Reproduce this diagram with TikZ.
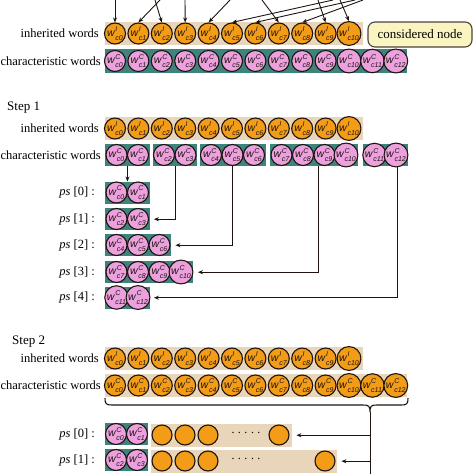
\documentclass[tikz,border=0pt]{standalone}
\usepackage{fontspec}
\setmainfont{Liberation Serif}
\newfontfamily\labfont{Liberation Sans}
\usetikzlibrary{arrows.meta,calc}
\definecolor{orng}{RGB}{243,156,24}
\definecolor{tanbg}{RGB}{233,214,186}
\definecolor{tealbg}{RGB}{62,132,124}
\definecolor{pnk}{RGB}{236,160,222}
\definecolor{consfill}{RGB}{250,244,192}
\definecolor{ink}{RGB}{30,20,15}
\newcommand\wlab[2]{{\labfont\itshape\fontsize{10.5}{10.5}\selectfont w\kern0.8pt\rlap{\raisebox{4.6pt}{\fontsize{7}{7}\selectfont #1}}\raisebox{-4pt}{\fontsize{7}{7}\selectfont c#2}}}
\newcommand\wI[1]{\wlab{I}{#1}}
\newcommand\wC[1]{\wlab{C}{#1}}
\tikzset{
  oc/.style={circle, draw=ink, line width=1.1pt, fill=orng, minimum size=21pt, inner sep=0pt, text=ink},
  pc/.style={oc, fill=pnk},
  plain/.style={circle, draw=ink, line width=1.1pt, fill=orng, minimum size=20pt, inner sep=0pt},
  lbl/.style={anchor=east, inner sep=0pt, font=\fontsize{12.5}{12.5}\selectfont},
  steplbl/.style={anchor=west, inner sep=0pt, font=\fontsize{13}{13}\selectfont},
  tanband/.style={fill=tanbg, inner sep=0pt, minimum height=23pt, anchor=north west},
  tealband/.style={fill=tealbg, inner sep=0pt, minimum height=22pt, anchor=north west},
  arr/.style={-{Stealth[length=5pt,width=4pt]}, line width=0.9pt, draw=ink},
  plainline/.style={line width=0.9pt, draw=ink},
  cons/.style={draw=ink!80, line width=1.1pt, fill=consfill, rounded corners=7pt, minimum width=104pt, minimum height=25pt, inner sep=0pt, font=\fontsize{13}{13}\selectfont}
}
\begin{document}
\begin{tikzpicture}[x=1pt,y=-1pt]
\useasboundingbox (0,0) rectangle (474,474);

% ---------------- top section
\node[tanband, minimum width=258pt] (bandI0) at (105,22) {};
\node[tealband, minimum width=302pt, minimum height=24pt] (bandC0) at (105,49) {};
\foreach \i in {0,...,10} \node[oc] (ti\i) at ({115+23.4*\i},33.5) {\wI{\i}};
\foreach \i in {0,...,12} \node[pc] (tc\i) at ({115+23.4*\i},61) {\wC{\i}};
\node[lbl] (lI0) at (99,33.5) {inherited words};
\node[lbl] (lC0) at (101,61) {characteristic words};
\node[cons] (cn) at (420,34.5) {considered node};

\coordinate (a0) at (115,0);
\coordinate (a1) at (160,0);
\coordinate (a2) at (155,0);
\coordinate (a3) at (185,0);
\coordinate (a4) at (230,0);
\coordinate (a5) at (333,0);
\coordinate (a6) at (355,0);
\coordinate (a7) at (262,0);
\coordinate (a8) at (363,0);
\coordinate (a9) at (318,0);
\coordinate (a10) at (340,0);
\foreach \i in {0,...,10} \draw[arr] (a\i) -- (ti\i.north);

% ---------------- step 1
\node[steplbl] (s1) at (7,108) {Step 1};
\node[tanband, minimum width=258pt] (bandI1) at (105,117) {};
\foreach \i in {0,...,10} \node[oc] (si\i) at ({115+23.4*\i},128.5) {\wI{\i}};
\node[lbl] (lI1) at (99,128.5) {inherited words};
\node[lbl] (lC1) at (101,155) {characteristic words};

\foreach \n/\x/\first/\last in {g1/105/0/1, g2/152.5/2/3, g3/199.5/4/6, g4/270/7/10, g5/363/11/12} {
  \pgfmathsetmacro\w{(\last-\first)*21.5+23}
  \node[tealband, minimum width=\w] (\n) at (\x,144) {};
  \foreach \k in {\first,...,\last}
    \node[pc] (s1c\k) at ({\x+11.5+21.5*(\k-\first)},155) {\wC{\k}};
}

\foreach \n/\y/\first/\last in {ps0/192.5/0/1, ps1/219/2/3, ps2/245/4/6, ps3/272/7/10, ps4/297.5/11/12} {
  \pgfmathsetmacro\w{(\last-\first)*21.5+23}
  \node[tealband, minimum width=\w] (\n) at (105,\y-11) {};
  \foreach \k in {\first,...,\last}
    \node[pc] (\n c\k) at ({116.5+21.5*(\k-\first)},\y) {\wC{\k}};
}
\node[lbl] (lp0) at (95,192.5) {\textit{ps} [0] :};
\node[lbl] (lp1) at (95,219) {\textit{ps} [1] :};
\node[lbl] (lp2) at (95,245) {\textit{ps} [2] :};
\node[lbl] (lp3) at (95,272) {\textit{ps} [3] :};
\node[lbl] (lp4) at (95,297.5) {\textit{ps} [4] :};

\draw[arr] (g1.south) -- (ps0.north);
\draw[arr] (g2.south) |- ([xshift=4pt]ps1.east);
\draw[arr] (g3.south) |- ([xshift=4pt]ps2.east);
\draw[arr] ([xshift=4pt]g4.south) |- ([xshift=5pt]ps3.east);
\draw[arr] ([xshift=11.5pt]g5.south) |- ([xshift=4pt]ps4.east);

% ---------------- step 2
\node[steplbl] (s2) at (12,342) {Step 2};
\node[tanband, minimum width=258pt] (bandI2) at (105,347) {};
\node[tanband, minimum width=302pt] (bandC2) at (105,374) {};
\foreach \i in {0,...,10} \node[oc] (ui\i) at ({115+23.4*\i},358.5) {\wI{\i}};
\foreach \i in {0,...,12} \node[oc] (uc\i) at ({115+23.4*\i},385.5) {\wC{\i}};
\node[lbl] (lI2) at (99,358.5) {inherited words};
\node[lbl] (lC2) at (101,385.5) {characteristic words};

% brace
\coordinate (bt) at (370,412);
\coordinate (bb) at (370,474);
\draw[line width=1.1pt, draw=ink] (105,398) .. controls (105,404) and (106,405) .. (112,405) -- (363,405)
  .. controls (369,405) and (370,406) .. (bt) .. controls (370,406) and (371,405) .. (377,405)
  -- (401,405) .. controls (407,405) and (408,404) .. (408,398);
\draw[plainline] (bt) -- (bb);

% ps rows of step 2
\node[tealband, minimum width=43pt] (q0) at (105,423) {};
\node[pc] (q0c0) at (116,434) {\wC{0}};
\node[pc] (q0c1) at (137,434) {\wC{1}};
\node[tanband, minimum width=141pt] (r0) at (151,423.5) {};
\node[plain] (r0a) at (162,435) {};
\node[plain] (r0b) at (185,435) {};
\node[plain] (r0c) at (208,435) {};
\node[plain] (r0d) at (279,435) {};
\node[inner sep=0pt, font=\fontsize{12}{12}\selectfont] (r0dots) at (246,433) {.\hspace{3.5pt}.\hspace{3.5pt}.\hspace{3.5pt}.\hspace{3.5pt}.};

\node[tealband, minimum width=43pt] (q1) at (105,449) {};
\node[pc] (q1c2) at (116,460) {\wC{2}};
\node[pc] (q1c3) at (137,460) {\wC{3}};
\node[tanband, minimum width=186pt] (r1) at (151,449.5) {};
\node[plain] (r1a) at (162,461) {};
\node[plain] (r1b) at (185,461) {};
\node[plain] (r1c) at (208,461) {};
\node[plain] (r1d) at (325,461) {};
\node[inner sep=0pt, font=\fontsize{12}{12}\selectfont] (r1dots) at (246,459) {.\hspace{3.5pt}.\hspace{3.5pt}.\hspace{3.5pt}.\hspace{3.5pt}.};

\node[lbl] (lq0) at (95,434) {\textit{ps} [0] :};
\node[lbl] (lq1) at (95,460) {\textit{ps} [1] :};

\draw[arr] (bt |- r0.east) -- ([xshift=4pt]r0.east);
\draw[arr] (bt |- r1.east) -- ([xshift=4pt]r1.east);
\end{tikzpicture}
\end{document}
